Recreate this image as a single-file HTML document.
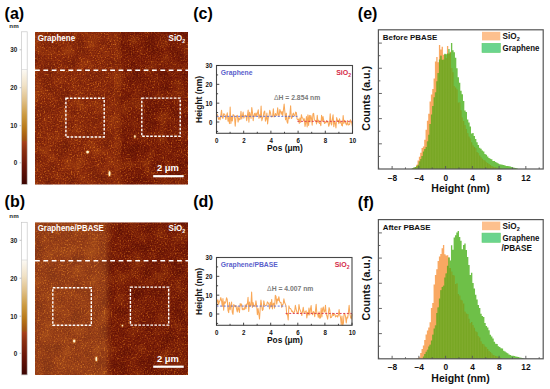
<!DOCTYPE html>
<html><head><meta charset="utf-8"><style>
html,body{margin:0;padding:0;background:#fff;width:550px;height:389px;overflow:hidden}
svg{display:block}
text{font-family:"Liberation Sans", sans-serif}
</style></head><body>
<svg width="550" height="389" viewBox="0 0 550 389" font-family='"Liberation Sans", sans-serif'>
<defs>
<linearGradient id="afmgrad" x1="0" y1="0" x2="1" y2="0">
 <stop offset="0" stop-color="#c06010" stop-opacity="0.10"/>
 <stop offset="0.5" stop-color="#c06010" stop-opacity="0.06"/>
 <stop offset="0.58" stop-color="#400000" stop-opacity="0.08"/>
 <stop offset="1" stop-color="#400000" stop-opacity="0.10"/>
</linearGradient>
<linearGradient id="cbgrad" x1="0" y1="0" x2="0" y2="1">
 <stop offset="0" stop-color="#ffffff"/>
 <stop offset="0.247" stop-color="#ffffff"/>
 <stop offset="0.25" stop-color="#fcf9f3"/>
 <stop offset="0.35" stop-color="#f1e2c6"/>
 <stop offset="0.448" stop-color="#e0c088"/>
 <stop offset="0.546" stop-color="#cc9a40"/>
 <stop offset="0.631" stop-color="#b87818"/>
 <stop offset="0.712" stop-color="#a05010"/>
 <stop offset="0.72" stop-color="#a8401a"/>
 <stop offset="0.778" stop-color="#8a2e10"/>
 <stop offset="0.876" stop-color="#6a1508"/>
 <stop offset="1" stop-color="#3c0502"/>
</linearGradient>
<filter id="afmtex" x="0" y="0" width="100%" height="100%" color-interpolation-filters="sRGB">
 <feTurbulence type="fractalNoise" baseFrequency="0.7" numOctaves="2" seed="4" result="n"/>
 <feGaussianBlur in="n" stdDeviation="0.45" result="nb"/>
 <feColorMatrix in="nb" type="matrix" values="1 0 0 0 0  1 0 0 0 0  1 0 0 0 0  0 0 0 0 1" result="g"/>
 <feComponentTransfer in="g">
  <feFuncR type="table" tableValues="0.392 0.401 0.410 0.420 0.429 0.438 0.447 0.464 0.480 0.497 0.514 0.537 0.561 0.611 0.664 0.732 0.761 0.780 0.800 0.820 0.839"/>
  <feFuncG type="table" tableValues="0.063 0.067 0.072 0.076 0.081 0.086 0.090 0.101 0.112 0.123 0.133 0.155 0.176 0.222 0.272 0.339 0.373 0.397 0.422 0.446 0.471"/>
  <feFuncB type="table" tableValues="0.020 0.021 0.022 0.024 0.025 0.026 0.027 0.029 0.031 0.033 0.035 0.039 0.043 0.050 0.058 0.075 0.097 0.120 0.142 0.165 0.188"/>
  <feFuncA type="linear" slope="0" intercept="1"/>
 </feComponentTransfer>
</filter>
<filter id="afmtex2" x="0" y="0" width="100%" height="100%" color-interpolation-filters="sRGB">
 <feTurbulence type="fractalNoise" baseFrequency="0.7" numOctaves="2" seed="9" result="n"/>
 <feGaussianBlur in="n" stdDeviation="0.45" result="nb"/>
 <feColorMatrix in="nb" type="matrix" values="1 0 0 0 0  1 0 0 0 0  1 0 0 0 0  0 0 0 0 1" result="g"/>
 <feComponentTransfer in="g">
  <feFuncR type="table" tableValues="0.392 0.401 0.410 0.420 0.429 0.438 0.447 0.464 0.480 0.497 0.514 0.537 0.561 0.611 0.664 0.732 0.761 0.780 0.800 0.820 0.839"/>
  <feFuncG type="table" tableValues="0.063 0.067 0.072 0.076 0.081 0.086 0.090 0.101 0.112 0.123 0.133 0.155 0.176 0.222 0.272 0.339 0.373 0.397 0.422 0.446 0.471"/>
  <feFuncB type="table" tableValues="0.020 0.021 0.022 0.024 0.025 0.026 0.027 0.029 0.031 0.033 0.035 0.039 0.043 0.050 0.058 0.075 0.097 0.120 0.142 0.165 0.188"/>
  <feFuncA type="linear" slope="0" intercept="1"/>
 </feComponentTransfer>
</filter>
<filter id="cloud" x="0" y="0" width="100%" height="100%" color-interpolation-filters="sRGB">
 <feTurbulence type="fractalNoise" baseFrequency="0.07" numOctaves="2" seed="21" result="n"/>
 <feColorMatrix in="n" type="matrix" values="0 0 0 0 0.80  0 0 0 0 0.40  0 0 0 0 0.08  0.9 0 0 0 -0.46" result="hi"/>
 <feColorMatrix in="n" type="matrix" values="0 0 0 0 0.25  0 0 0 0 0.0  0 0 0 0 0.0  -0.9 0 0 0 0.44" result="lo"/>
 <feMerge><feMergeNode in="lo"/><feMergeNode in="hi"/></feMerge>
</filter>
</defs>
<rect width="550" height="389" fill="#fff"/>
<text x="4.60" y="18.60" font-size="16" fill="#000" text-anchor="start" font-weight="bold" >(a)</text>
<text x="14.00" y="27.80" font-size="6.2" fill="#1a1a1a" text-anchor="middle" font-weight="bold" >nm</text>
<rect x="21.5" y="31.8" width="5.7" height="152.6" fill="url(#cbgrad)" stroke="#c8c8c8" stroke-width="0.7"/>
<line x1="21.5" y1="69.5" x2="27.2" y2="69.5" stroke="#d0d0d0" stroke-width="0.6"/>
<text x="17.20" y="52.10" font-size="6.3" fill="#222" text-anchor="end" font-weight="bold" >30</text>
<line x1="19.6" y1="49.8" x2="21.3" y2="49.8" stroke="#999" stroke-width="0.6"/>
<text x="17.20" y="90.00" font-size="6.3" fill="#222" text-anchor="end" font-weight="bold" >20</text>
<line x1="19.6" y1="87.7" x2="21.3" y2="87.7" stroke="#999" stroke-width="0.6"/>
<text x="17.20" y="128.00" font-size="6.3" fill="#222" text-anchor="end" font-weight="bold" >10</text>
<line x1="19.6" y1="125.7" x2="21.3" y2="125.7" stroke="#999" stroke-width="0.6"/>
<text x="17.20" y="165.10" font-size="6.3" fill="#222" text-anchor="end" font-weight="bold" >0</text>
<line x1="19.6" y1="162.8" x2="21.3" y2="162.8" stroke="#999" stroke-width="0.6"/>
<g>
<clipPath id="cp31"><rect x="35" y="31.9" width="153" height="152.5"/></clipPath>
<g clip-path="url(#cp31)">
<rect x="35" y="31.5" width="153" height="153" fill="#000" filter="url(#afmtex)"/>
<rect x="35" y="31.5" width="153" height="153" fill="#000" filter="url(#cloud)"/>
<defs><linearGradient id="lr31" x1="0" y1="0" x2="1" y2="0"><stop offset="0" stop-color="#c87428" stop-opacity="0.1"/><stop offset="0.523" stop-color="#c87428" stop-opacity="0.1"/><stop offset="0.575" stop-color="#300000" stop-opacity="0.1"/><stop offset="1" stop-color="#300000" stop-opacity="0.1"/></linearGradient></defs>
<rect x="35" y="31.5" width="153" height="153" fill="url(#lr31)"/>
<rect x="114" y="31.5" width="7" height="153" fill="#d8781c" opacity="0.08"/>
<ellipse cx="87.6" cy="152.1" rx="2.3" ry="2.3" fill="#e89030" opacity="0.4"/>
<ellipse cx="87.6" cy="152.1" rx="1.4" ry="1.4" fill="#fff4d0"/>
<ellipse cx="109.5" cy="173.6" rx="1.9" ry="3.5" fill="#e89030" opacity="0.4"/>
<ellipse cx="109.5" cy="173.6" rx="1.0" ry="2.6" fill="#fff4d0"/>
<ellipse cx="134.9" cy="136.5" rx="1.7000000000000002" ry="2.1" fill="#e89030" opacity="0.4"/>
<ellipse cx="134.9" cy="136.5" rx="0.8" ry="1.2" fill="#fff4d0"/>
</g>
<line x1="35" y1="70.3" x2="188" y2="70.3" stroke="#fff" stroke-width="1.4" stroke-dasharray="4.8 3.556"/>
<rect x="65.9" y="98.3" width="38.3" height="38.7" fill="none" stroke="#fff" stroke-width="1.4" stroke-dasharray="2.6 1.4"/>
<rect x="141.8" y="98.1" width="38.4" height="38.2" fill="none" stroke="#fff" stroke-width="1.4" stroke-dasharray="2.6 1.4"/>
<text x="37.7" y="40.90" font-size="9" fill="#fff" font-weight="bold" textLength="37.5" lengthAdjust="spacingAndGlyphs">Graphene</text>
<text x="185.2" y="40.90" font-size="8.8" fill="#fff" font-weight="bold" text-anchor="end" textLength="16.6" lengthAdjust="spacingAndGlyphs">SiO<tspan font-size="5.8" dy="1.7">2</tspan></text>
<rect x="153.2" y="175.1" width="30.5" height="2.2" fill="#fff"/>
<text x="168.00" y="171.30" font-size="9.4" fill="#fff" text-anchor="middle" font-weight="bold" >2 μm</text>
</g>
<text x="4.60" y="207.40" font-size="16" fill="#000" text-anchor="start" font-weight="bold" >(b)</text>
<text x="14.00" y="218.30" font-size="6.2" fill="#1a1a1a" text-anchor="middle" font-weight="bold" >nm</text>
<rect x="21.5" y="222.3" width="5.7" height="152.6" fill="url(#cbgrad)" stroke="#c8c8c8" stroke-width="0.7"/>
<line x1="21.5" y1="260.0" x2="27.2" y2="260.0" stroke="#d0d0d0" stroke-width="0.6"/>
<text x="17.20" y="242.60" font-size="6.3" fill="#222" text-anchor="end" font-weight="bold" >30</text>
<line x1="19.6" y1="240.3" x2="21.3" y2="240.3" stroke="#999" stroke-width="0.6"/>
<text x="17.20" y="280.50" font-size="6.3" fill="#222" text-anchor="end" font-weight="bold" >20</text>
<line x1="19.6" y1="278.2" x2="21.3" y2="278.2" stroke="#999" stroke-width="0.6"/>
<text x="17.20" y="318.50" font-size="6.3" fill="#222" text-anchor="end" font-weight="bold" >10</text>
<line x1="19.6" y1="316.2" x2="21.3" y2="316.2" stroke="#999" stroke-width="0.6"/>
<text x="17.20" y="355.60" font-size="6.3" fill="#222" text-anchor="end" font-weight="bold" >0</text>
<line x1="19.6" y1="353.3" x2="21.3" y2="353.3" stroke="#999" stroke-width="0.6"/>
<g>
<clipPath id="cp222"><rect x="35" y="222.4" width="153" height="152.5"/></clipPath>
<g clip-path="url(#cp222)">
<rect x="35" y="222.0" width="153" height="153" fill="#000" filter="url(#afmtex2)"/>
<rect x="35" y="222.0" width="153" height="153" fill="#000" filter="url(#cloud)"/>
<defs><linearGradient id="lr222" x1="0" y1="0" x2="1" y2="0"><stop offset="0" stop-color="#d09040" stop-opacity="0.26"/><stop offset="0.458" stop-color="#d09040" stop-opacity="0.26"/><stop offset="0.510" stop-color="#300000" stop-opacity="0.12"/><stop offset="1" stop-color="#300000" stop-opacity="0.12"/></linearGradient></defs>
<rect x="35" y="222.0" width="153" height="153" fill="url(#lr222)"/>
<rect x="104" y="222.0" width="7" height="153" fill="#d8781c" opacity="0.0"/>
<ellipse cx="74.2" cy="341.0" rx="2.1" ry="2.4" fill="#e89030" opacity="0.4"/>
<ellipse cx="74.2" cy="341.0" rx="1.2" ry="1.5" fill="#fff4d0"/>
<ellipse cx="96.3" cy="359.0" rx="1.8" ry="3.1" fill="#e89030" opacity="0.4"/>
<ellipse cx="96.3" cy="359.0" rx="0.9" ry="2.2" fill="#fff4d0"/>
<ellipse cx="122.4" cy="325.6" rx="1.6" ry="1.8" fill="#e89030" opacity="0.4"/>
<ellipse cx="122.4" cy="325.6" rx="0.7" ry="0.9" fill="#fff4d0"/>
</g>
<line x1="35" y1="260.8" x2="188" y2="260.8" stroke="#fff" stroke-width="1.4" stroke-dasharray="4.8 3.556"/>
<rect x="52.8" y="287.8" width="38.5" height="37.5" fill="none" stroke="#fff" stroke-width="1.4" stroke-dasharray="2.6 1.4"/>
<rect x="130.4" y="287.1" width="38.3" height="38" fill="none" stroke="#fff" stroke-width="1.4" stroke-dasharray="2.6 1.4"/>
<text x="37.7" y="231.40" font-size="9" fill="#fff" font-weight="bold" textLength="66.2" lengthAdjust="spacingAndGlyphs">Graphene/PBASE</text>
<text x="185.2" y="231.40" font-size="8.8" fill="#fff" font-weight="bold" text-anchor="end" textLength="16.6" lengthAdjust="spacingAndGlyphs">SiO<tspan font-size="5.8" dy="1.7">2</tspan></text>
<rect x="153.2" y="365.6" width="30.5" height="2.2" fill="#fff"/>
<text x="168.00" y="361.80" font-size="9.4" fill="#fff" text-anchor="middle" font-weight="bold" >2 μm</text>
</g>
<text x="193.20" y="18.60" font-size="16" fill="#000" text-anchor="start" font-weight="bold" >(c)</text>
<polyline points="216.50,115.72 217.22,114.49 217.94,116.86 218.66,119.42 219.38,117.61 220.10,119.83 220.82,115.48 221.54,110.17 222.26,117.76 222.98,118.30 223.70,113.70 224.42,114.25 225.13,115.29 225.85,119.58 226.57,115.85 227.29,112.84 228.01,121.29 228.73,117.62 229.45,123.60 230.17,106.93 230.89,123.36 231.61,116.70 232.33,120.98 233.05,114.60 233.77,115.08 234.49,116.50 235.21,126.15 235.93,117.96 236.65,115.93 237.37,115.26 238.09,122.07 238.81,117.70 239.53,119.78 240.25,119.08 240.97,111.33 241.69,119.07 242.40,115.86 243.12,112.06 243.84,118.14 244.56,116.19 245.28,115.27 246.00,115.46 246.72,120.80 247.44,115.41 248.16,110.10 248.88,122.14 249.60,112.16 250.32,115.23 251.04,118.38 251.76,107.44 252.48,112.57 253.20,120.69 253.92,115.42 254.64,113.34 255.36,116.51 256.08,112.90 256.80,116.00 257.52,112.96 258.24,109.76 258.96,118.52 259.67,114.88 260.39,117.64 261.11,105.99 261.83,120.64 262.55,118.12 263.27,116.53 263.99,111.99 264.71,110.96 265.43,121.18 266.15,118.98 266.87,112.99 267.59,123.91 268.31,117.55 269.03,116.00 269.75,110.35 270.47,112.65 271.19,116.80 271.91,116.90 272.63,116.33 273.35,108.89 274.07,116.88 274.79,116.26 275.51,113.43 276.22,115.28 276.94,115.48 277.66,107.88 278.38,114.51 279.10,116.21 279.82,109.47 280.54,111.55 281.26,114.32 281.98,111.45 282.70,115.64 283.42,109.91 284.14,104.11 284.86,111.99 285.58,119.84 286.30,113.15 287.02,121.68 287.74,123.22 288.46,116.14 289.18,118.69 289.90,114.36 290.62,105.79 291.34,118.58 292.06,117.74 292.78,114.30 293.49,113.09 294.21,115.81 294.93,115.87 295.65,112.02 296.37,112.68 297.09,118.99 297.81,119.78 298.53,119.16 299.25,123.52 299.97,117.92 300.69,122.40 301.41,114.67 302.13,117.76 302.85,118.07 303.57,120.78 304.29,118.74 305.01,126.46 305.73,122.84 306.45,116.64 307.17,126.99 307.89,114.71 308.61,125.52 309.33,115.25 310.04,122.01 310.76,115.41 311.48,118.24 312.20,125.30 312.92,113.92 313.64,113.28 314.36,119.68 315.08,120.69 315.80,120.36 316.52,123.87 317.24,115.39 317.96,122.30 318.68,120.36 319.40,123.52 320.12,122.89 320.84,125.65 321.56,115.20 322.28,121.09 323.00,116.48 323.72,120.45 324.44,123.41 325.16,121.90 325.88,122.88 326.60,120.54 327.31,122.13 328.03,121.82 328.75,126.30 329.47,123.93 330.19,113.74 330.91,123.37 331.63,124.96 332.35,119.19 333.07,114.76 333.79,126.62 334.51,121.46 335.23,123.21 335.95,127.89 336.67,117.55 337.39,120.70 338.11,120.31 338.83,123.74 339.55,118.75 340.27,122.90 340.99,121.31 341.71,125.39 342.43,125.95 343.15,115.54 343.87,123.39 344.58,120.36 345.30,122.04 346.02,124.13 346.74,124.85 347.46,120.61 348.18,124.93 348.90,124.72 349.62,124.33 350.34,119.77 351.06,121.92 351.78,123.09 352.50,126.82" fill="none" stroke="#f9a858" stroke-width="1.05" stroke-linejoin="round"/>
<line x1="216.5" y1="116.35" x2="297.42" y2="116.35" stroke="#5566d8" stroke-width="0.9" stroke-dasharray="2 1.6"/>
<line x1="297.42" y1="121.34" x2="352.5" y2="121.34" stroke="#d8304c" stroke-width="0.9" stroke-dasharray="2 1.6"/>
<rect x="216.5" y="65.5" width="136.0" height="67.80000000000001" fill="none" stroke="#484848" stroke-width="1.1"/>
<line x1="216.5" y1="131.42" x2="218.1" y2="131.42" stroke="#333" stroke-width="0.9"/>
<line x1="216.5" y1="122.00" x2="219.3" y2="122.00" stroke="#333" stroke-width="0.9"/>
<line x1="216.5" y1="112.58" x2="218.1" y2="112.58" stroke="#333" stroke-width="0.9"/>
<line x1="216.5" y1="103.17" x2="219.3" y2="103.17" stroke="#333" stroke-width="0.9"/>
<line x1="216.5" y1="93.75" x2="218.1" y2="93.75" stroke="#333" stroke-width="0.9"/>
<line x1="216.5" y1="84.33" x2="219.3" y2="84.33" stroke="#333" stroke-width="0.9"/>
<line x1="216.5" y1="74.92" x2="218.1" y2="74.92" stroke="#333" stroke-width="0.9"/>
<line x1="216.5" y1="65.50" x2="219.3" y2="65.50" stroke="#333" stroke-width="0.9"/>
<text x="212.40" y="124.60" font-size="7.0" fill="#111" text-anchor="end" font-weight="bold" textLength="3.43" lengthAdjust="spacingAndGlyphs">0</text>
<text x="212.40" y="105.77" font-size="7.0" fill="#111" text-anchor="end" font-weight="bold" textLength="6.85" lengthAdjust="spacingAndGlyphs">10</text>
<text x="212.40" y="86.93" font-size="7.0" fill="#111" text-anchor="end" font-weight="bold" textLength="6.85" lengthAdjust="spacingAndGlyphs">20</text>
<text x="212.40" y="68.10" font-size="7.0" fill="#111" text-anchor="end" font-weight="bold" textLength="6.85" lengthAdjust="spacingAndGlyphs">30</text>
<line x1="216.50" y1="133.3" x2="216.50" y2="130.70000000000002" stroke="#333" stroke-width="0.9"/>
<line x1="230.10" y1="133.3" x2="230.10" y2="131.8" stroke="#333" stroke-width="0.9"/>
<line x1="243.70" y1="133.3" x2="243.70" y2="130.70000000000002" stroke="#333" stroke-width="0.9"/>
<line x1="257.30" y1="133.3" x2="257.30" y2="131.8" stroke="#333" stroke-width="0.9"/>
<line x1="270.90" y1="133.3" x2="270.90" y2="130.70000000000002" stroke="#333" stroke-width="0.9"/>
<line x1="284.50" y1="133.3" x2="284.50" y2="131.8" stroke="#333" stroke-width="0.9"/>
<line x1="298.10" y1="133.3" x2="298.10" y2="130.70000000000002" stroke="#333" stroke-width="0.9"/>
<line x1="311.70" y1="133.3" x2="311.70" y2="131.8" stroke="#333" stroke-width="0.9"/>
<line x1="325.30" y1="133.3" x2="325.30" y2="130.70000000000002" stroke="#333" stroke-width="0.9"/>
<line x1="338.90" y1="133.3" x2="338.90" y2="131.8" stroke="#333" stroke-width="0.9"/>
<line x1="352.50" y1="133.3" x2="352.50" y2="130.70000000000002" stroke="#333" stroke-width="0.9"/>
<text x="216.70" y="143.00" font-size="7.0" fill="#111" text-anchor="middle" font-weight="bold" textLength="3.43" lengthAdjust="spacingAndGlyphs">0</text>
<text x="243.90" y="143.00" font-size="7.0" fill="#111" text-anchor="middle" font-weight="bold" textLength="3.43" lengthAdjust="spacingAndGlyphs">2</text>
<text x="271.10" y="143.00" font-size="7.0" fill="#111" text-anchor="middle" font-weight="bold" textLength="3.43" lengthAdjust="spacingAndGlyphs">4</text>
<text x="298.30" y="143.00" font-size="7.0" fill="#111" text-anchor="middle" font-weight="bold" textLength="3.43" lengthAdjust="spacingAndGlyphs">6</text>
<text x="325.50" y="143.00" font-size="7.0" fill="#111" text-anchor="middle" font-weight="bold" textLength="3.43" lengthAdjust="spacingAndGlyphs">8</text>
<text x="352.70" y="143.00" font-size="7.0" fill="#111" text-anchor="middle" font-weight="bold" textLength="6.85" lengthAdjust="spacingAndGlyphs">10</text>
<text x="284.90" y="151.10" font-size="8.4" fill="#111" text-anchor="middle" font-weight="bold" >Pos (μm)</text>
<text x="0" y="0" font-size="8.5" font-weight="bold" fill="#111" text-anchor="middle" transform="translate(202.4 99.40) rotate(-90)">Height (nm)</text>
<text x="220.80" y="75.20" font-size="6.8" fill="#5b5fcc" text-anchor="start" font-weight="bold" >Graphene</text>
<text x="351.00" y="75.00" font-size="7" fill="#d42a48" text-anchor="end" font-weight="bold" >SiO<tspan font-size="5" dy="1.5">2</tspan></text>
<text x="274.00" y="100.20" font-size="6.8" fill="#7a7a7a" text-anchor="start" font-weight="bold" ><tspan font-weight="normal">Δ</tspan>H = 2.854 nm</text>
<text x="193.20" y="207.40" font-size="16" fill="#000" text-anchor="start" font-weight="bold" >(d)</text>
<polyline points="216.50,310.12 217.22,300.19 217.93,299.89 218.65,304.34 219.37,301.48 220.08,300.57 220.80,297.62 221.52,300.42 222.24,306.41 222.95,298.52 223.67,310.20 224.39,301.66 225.10,303.32 225.82,301.85 226.54,297.74 227.25,299.41 227.97,310.33 228.69,312.59 229.40,302.21 230.12,309.81 230.84,305.65 231.56,302.12 232.27,312.41 232.99,314.34 233.71,304.53 234.42,305.42 235.14,306.62 235.86,305.44 236.57,309.17 237.29,311.87 238.01,306.29 238.72,309.63 239.44,312.41 240.16,303.51 240.88,305.86 241.59,303.92 242.31,309.70 243.03,308.33 243.74,309.74 244.46,309.27 245.18,304.79 245.89,308.85 246.61,304.13 247.33,304.19 248.04,297.21 248.76,311.37 249.48,301.92 250.20,305.97 250.91,305.66 251.63,291.97 252.35,307.51 253.06,302.52 253.78,305.94 254.50,305.27 255.21,306.81 255.93,300.82 256.65,305.69 257.37,314.72 258.08,308.47 258.80,313.76 259.52,319.07 260.23,307.79 260.95,300.07 261.67,305.39 262.38,310.43 263.10,309.46 263.82,300.86 264.53,304.86 265.25,305.27 265.97,305.63 266.69,305.17 267.40,301.89 268.12,302.80 268.84,304.03 269.55,309.05 270.27,302.38 270.99,307.07 271.70,299.41 272.42,308.90 273.14,303.89 273.85,303.05 274.57,308.22 275.29,295.36 276.01,296.25 276.72,304.09 277.44,298.91 278.16,300.55 278.87,296.67 279.59,301.31 280.31,302.80 281.02,302.43 281.74,307.49 282.46,304.40 283.17,304.28 283.89,298.84 284.61,302.58 285.33,304.14 286.04,305.89 286.76,314.61 287.48,313.96 288.19,319.89 288.91,305.83 289.63,308.29 290.34,308.42 291.06,309.36 291.78,311.58 292.49,311.04 293.21,312.86 293.93,312.55 294.65,311.37 295.36,305.23 296.08,309.09 296.80,311.54 297.51,313.61 298.23,313.77 298.95,304.43 299.66,308.92 300.38,310.70 301.10,312.39 301.81,315.55 302.53,311.23 303.25,307.36 303.97,312.64 304.68,312.00 305.40,312.04 306.12,310.74 306.83,317.88 307.55,312.35 308.27,315.02 308.98,307.92 309.70,314.89 310.42,309.43 311.13,305.62 311.85,313.36 312.57,314.67 313.29,311.50 314.00,312.41 314.72,316.63 315.44,310.71 316.15,304.37 316.87,313.88 317.59,313.74 318.30,317.31 319.02,311.74 319.74,318.29 320.46,317.77 321.17,307.94 321.89,317.04 322.61,308.86 323.32,307.06 324.04,312.34 324.76,311.16 325.47,305.39 326.19,314.33 326.91,316.01 327.62,319.20 328.34,313.47 329.06,307.58 329.78,309.82 330.49,317.81 331.21,317.59 331.93,316.30 332.64,313.22 333.36,315.53 334.08,314.08 334.79,314.06 335.51,316.89 336.23,316.19 336.94,315.54 337.66,317.11 338.38,315.00 339.10,309.61 339.81,315.12 340.53,317.46 341.25,324.72 341.96,316.07 342.68,325.59 343.40,323.14 344.11,313.47 344.83,313.75 345.55,316.93 346.26,323.02 346.98,317.11 347.70,318.03 348.42,312.27 349.13,305.27 349.85,313.49 350.57,317.42 351.28,318.88 352.00,314.14" fill="none" stroke="#f9a858" stroke-width="1.05" stroke-linejoin="round"/>
<line x1="216.5" y1="306.09" x2="285.61" y2="306.09" stroke="#5566d8" stroke-width="0.9" stroke-dasharray="2 1.6"/>
<line x1="285.61" y1="313.44" x2="352.0" y2="313.44" stroke="#d8304c" stroke-width="0.9" stroke-dasharray="2 1.6"/>
<rect x="216.5" y="257.5" width="135.5" height="67.80000000000001" fill="none" stroke="#484848" stroke-width="1.1"/>
<line x1="216.5" y1="323.42" x2="218.1" y2="323.42" stroke="#333" stroke-width="0.9"/>
<line x1="216.5" y1="314.00" x2="219.3" y2="314.00" stroke="#333" stroke-width="0.9"/>
<line x1="216.5" y1="304.58" x2="218.1" y2="304.58" stroke="#333" stroke-width="0.9"/>
<line x1="216.5" y1="295.17" x2="219.3" y2="295.17" stroke="#333" stroke-width="0.9"/>
<line x1="216.5" y1="285.75" x2="218.1" y2="285.75" stroke="#333" stroke-width="0.9"/>
<line x1="216.5" y1="276.33" x2="219.3" y2="276.33" stroke="#333" stroke-width="0.9"/>
<line x1="216.5" y1="266.92" x2="218.1" y2="266.92" stroke="#333" stroke-width="0.9"/>
<line x1="216.5" y1="257.50" x2="219.3" y2="257.50" stroke="#333" stroke-width="0.9"/>
<text x="212.40" y="316.60" font-size="7.0" fill="#111" text-anchor="end" font-weight="bold" textLength="3.43" lengthAdjust="spacingAndGlyphs">0</text>
<text x="212.40" y="297.77" font-size="7.0" fill="#111" text-anchor="end" font-weight="bold" textLength="6.85" lengthAdjust="spacingAndGlyphs">10</text>
<text x="212.40" y="278.93" font-size="7.0" fill="#111" text-anchor="end" font-weight="bold" textLength="6.85" lengthAdjust="spacingAndGlyphs">20</text>
<text x="212.40" y="260.10" font-size="7.0" fill="#111" text-anchor="end" font-weight="bold" textLength="6.85" lengthAdjust="spacingAndGlyphs">30</text>
<line x1="216.50" y1="325.3" x2="216.50" y2="322.7" stroke="#333" stroke-width="0.9"/>
<line x1="230.05" y1="325.3" x2="230.05" y2="323.8" stroke="#333" stroke-width="0.9"/>
<line x1="243.60" y1="325.3" x2="243.60" y2="322.7" stroke="#333" stroke-width="0.9"/>
<line x1="257.15" y1="325.3" x2="257.15" y2="323.8" stroke="#333" stroke-width="0.9"/>
<line x1="270.70" y1="325.3" x2="270.70" y2="322.7" stroke="#333" stroke-width="0.9"/>
<line x1="284.25" y1="325.3" x2="284.25" y2="323.8" stroke="#333" stroke-width="0.9"/>
<line x1="297.80" y1="325.3" x2="297.80" y2="322.7" stroke="#333" stroke-width="0.9"/>
<line x1="311.35" y1="325.3" x2="311.35" y2="323.8" stroke="#333" stroke-width="0.9"/>
<line x1="324.90" y1="325.3" x2="324.90" y2="322.7" stroke="#333" stroke-width="0.9"/>
<line x1="338.45" y1="325.3" x2="338.45" y2="323.8" stroke="#333" stroke-width="0.9"/>
<line x1="352.00" y1="325.3" x2="352.00" y2="322.7" stroke="#333" stroke-width="0.9"/>
<text x="216.70" y="335.00" font-size="7.0" fill="#111" text-anchor="middle" font-weight="bold" textLength="3.43" lengthAdjust="spacingAndGlyphs">0</text>
<text x="243.80" y="335.00" font-size="7.0" fill="#111" text-anchor="middle" font-weight="bold" textLength="3.43" lengthAdjust="spacingAndGlyphs">2</text>
<text x="270.90" y="335.00" font-size="7.0" fill="#111" text-anchor="middle" font-weight="bold" textLength="3.43" lengthAdjust="spacingAndGlyphs">4</text>
<text x="298.00" y="335.00" font-size="7.0" fill="#111" text-anchor="middle" font-weight="bold" textLength="3.43" lengthAdjust="spacingAndGlyphs">6</text>
<text x="325.10" y="335.00" font-size="7.0" fill="#111" text-anchor="middle" font-weight="bold" textLength="3.43" lengthAdjust="spacingAndGlyphs">8</text>
<text x="352.20" y="335.00" font-size="7.0" fill="#111" text-anchor="middle" font-weight="bold" textLength="6.85" lengthAdjust="spacingAndGlyphs">10</text>
<text x="284.90" y="343.10" font-size="8.4" fill="#111" text-anchor="middle" font-weight="bold" >Pos (μm)</text>
<text x="0" y="0" font-size="8.5" font-weight="bold" fill="#111" text-anchor="middle" transform="translate(202.4 291.40) rotate(-90)">Height (nm)</text>
<text x="220.80" y="267.20" font-size="6.8" fill="#5b5fcc" text-anchor="start" font-weight="bold" >Graphene/PBASE</text>
<text x="349.50" y="267.00" font-size="7" fill="#d42a48" text-anchor="end" font-weight="bold" >SiO<tspan font-size="5" dy="1.5">2</tspan></text>
<text x="267.10" y="291.00" font-size="6.8" fill="#7a7a7a" text-anchor="start" font-weight="bold" ><tspan font-weight="normal">Δ</tspan>H = 4.007 nm</text>
<text x="357.80" y="18.60" font-size="16" fill="#000" text-anchor="start" font-weight="bold" >(e)</text>
<path d="M416.18 169.0V164.8H417.52V169.0zM417.52 169.0V160.4H418.86V169.0zM418.86 169.0V156.8H420.19V169.0zM420.19 169.0V152.7H421.53V169.0zM421.53 169.0V148.1H422.87V169.0zM422.87 169.0V146.6H424.20V169.0zM424.20 169.0V139.7H425.54V169.0zM425.54 169.0V129.8H426.88V169.0zM426.88 169.0V120.8H428.22V169.0zM428.22 169.0V113.7H429.55V169.0zM429.55 169.0V101.6H430.89V169.0zM430.89 169.0V94.4H432.23V169.0zM432.23 169.0V89.1H433.57V169.0zM433.57 169.0V78.5H434.90V169.0zM434.90 169.0V61.6H436.24V169.0zM436.24 169.0V57.0H437.58V169.0zM437.58 169.0V62.3H438.91V169.0zM438.91 169.0V45.1H440.25V169.0zM440.25 169.0V49.4H441.59V169.0zM441.59 169.0V46.8H442.93V169.0zM442.93 169.0V54.8H444.26V169.0zM446.94 169.0V46.0H448.27V169.0zM449.61 169.0V51.8H450.95V169.0z" fill="#f9a862"/>
<path d="M410.83 169.0V168.7H412.17V169.0zM412.17 169.0V168.2H413.51V169.0zM413.51 169.0V167.5H414.84V169.0zM444.26 169.0V53.7H445.60V169.0zM445.60 169.0V54.2H446.94V169.0zM448.27 169.0V48.9H449.61V169.0zM450.95 169.0V43.0H452.29V169.0zM452.29 169.0V50.2H453.62V169.0zM453.62 169.0V52.2H454.96V169.0zM454.96 169.0V57.8H456.30V169.0zM456.30 169.0V68.3H457.63V169.0zM457.63 169.0V77.2H458.97V169.0zM458.97 169.0V82.7H460.31V169.0zM460.31 169.0V90.8H461.65V169.0zM461.65 169.0V94.3H462.98V169.0zM462.98 169.0V101.0H464.32V169.0zM464.32 169.0V110.4H465.66V169.0zM465.66 169.0V112.1H467.00V169.0zM467.00 169.0V119.6H468.33V169.0zM468.33 169.0V122.5H469.67V169.0zM469.67 169.0V126.4H471.01V169.0zM471.01 169.0V133.6H472.34V169.0zM472.34 169.0V133.1H473.68V169.0zM473.68 169.0V135.9H475.02V169.0zM475.02 169.0V139.1H476.36V169.0zM476.36 169.0V142.2H477.69V169.0zM477.69 169.0V144.9H479.03V169.0zM479.03 169.0V147.7H480.37V169.0zM480.37 169.0V148.7H481.70V169.0zM481.70 169.0V150.5H483.04V169.0zM483.04 169.0V151.6H484.38V169.0zM484.38 169.0V154.1H485.72V169.0zM485.72 169.0V154.8H487.05V169.0zM487.05 169.0V156.5H488.39V169.0zM488.39 169.0V157.9H489.73V169.0zM489.73 169.0V158.8H491.06V169.0zM491.06 169.0V159.3H492.40V169.0zM492.40 169.0V160.9H493.74V169.0zM493.74 169.0V161.0H495.08V169.0zM495.08 169.0V161.9H496.41V169.0zM496.41 169.0V162.7H497.75V169.0zM497.75 169.0V163.5H499.09V169.0zM499.09 169.0V164.3H500.43V169.0zM500.43 169.0V164.5H501.76V169.0zM501.76 169.0V164.7H503.10V169.0zM503.10 169.0V165.0H504.44V169.0zM504.44 169.0V165.4H505.77V169.0zM505.77 169.0V165.9H507.11V169.0zM507.11 169.0V166.0H508.45V169.0zM508.45 169.0V166.2H509.79V169.0zM509.79 169.0V166.6H511.12V169.0zM511.12 169.0V167.0H512.46V169.0zM512.46 169.0V167.5H513.80V169.0zM513.80 169.0V167.7H515.13V169.0zM515.13 169.0V168.1H516.47V169.0zM516.47 169.0V168.5H517.81V169.0z" fill="#6ec048"/>
<path d="M412.17 169.0V168.6H413.51V169.0zM413.51 169.0V167.8H414.84V169.0zM414.84 169.0V167.0H416.18V169.0zM416.18 169.0V166.2H417.52V169.0zM417.52 169.0V164.7H418.86V169.0zM418.86 169.0V161.6H420.19V169.0zM420.19 169.0V159.1H421.53V169.0zM421.53 169.0V156.0H422.87V169.0zM422.87 169.0V151.6H424.20V169.0zM424.20 169.0V148.9H425.54V169.0zM425.54 169.0V146.9H426.88V169.0zM426.88 169.0V141.6H428.22V169.0zM428.22 169.0V134.7H429.55V169.0zM429.55 169.0V123.9H430.89V169.0zM430.89 169.0V114.5H432.23V169.0zM432.23 169.0V105.9H433.57V169.0zM433.57 169.0V97.3H434.90V169.0zM434.90 169.0V92.6H436.24V169.0zM436.24 169.0V81.2H437.58V169.0zM437.58 169.0V73.1H438.91V169.0zM438.91 169.0V59.6H440.25V169.0zM440.25 169.0V55.7H441.59V169.0zM441.59 169.0V59.8H442.93V169.0zM442.93 169.0V59.8H444.26V169.0zM444.26 169.0V54.4H445.60V169.0zM445.60 169.0V58.2H446.94V169.0zM446.94 169.0V53.5H448.27V169.0zM448.27 169.0V53.8H449.61V169.0zM449.61 169.0V52.4H450.95V169.0zM450.95 169.0V68.3H452.29V169.0zM452.29 169.0V72.2H453.62V169.0zM453.62 169.0V86.0H454.96V169.0zM454.96 169.0V87.6H456.30V169.0zM456.30 169.0V89.6H457.63V169.0zM457.63 169.0V102.5H458.97V169.0zM458.97 169.0V102.5H460.31V169.0zM460.31 169.0V110.3H461.65V169.0zM461.65 169.0V117.8H462.98V169.0zM462.98 169.0V120.9H464.32V169.0zM464.32 169.0V125.2H465.66V169.0zM465.66 169.0V128.9H467.00V169.0zM467.00 169.0V133.2H468.33V169.0zM468.33 169.0V136.5H469.67V169.0zM469.67 169.0V138.6H471.01V169.0zM471.01 169.0V142.3H472.34V169.0zM472.34 169.0V145.4H473.68V169.0zM473.68 169.0V147.0H475.02V169.0zM475.02 169.0V148.3H476.36V169.0zM476.36 169.0V152.1H477.69V169.0zM477.69 169.0V153.0H479.03V169.0zM479.03 169.0V155.4H480.37V169.0zM480.37 169.0V157.5H481.70V169.0zM481.70 169.0V158.7H483.04V169.0zM483.04 169.0V160.2H484.38V169.0zM484.38 169.0V160.5H485.72V169.0zM485.72 169.0V162.2H487.05V169.0zM487.05 169.0V162.9H488.39V169.0zM488.39 169.0V164.0H489.73V169.0zM489.73 169.0V165.1H491.06V169.0zM491.06 169.0V165.9H492.40V169.0zM492.40 169.0V166.7H493.74V169.0zM493.74 169.0V167.0H495.08V169.0zM495.08 169.0V167.3H496.41V169.0zM496.41 169.0V167.7H497.75V169.0zM497.75 169.0V168.0H499.09V169.0zM499.09 169.0V168.3H500.43V169.0zM500.43 169.0V168.7H501.76V169.0z" fill="#78a724"/>
<path d="M413.51 169.0V167.8H414.84V169.0zM416.18 169.0V166.2H417.52V169.0zM418.86 169.0V161.6H420.19V169.0zM421.53 169.0V156.0H422.87V169.0zM424.20 169.0V148.9H425.54V169.0zM426.88 169.0V141.6H428.22V169.0zM429.55 169.0V123.9H430.89V169.0zM432.23 169.0V105.9H433.57V169.0zM434.90 169.0V92.6H436.24V169.0zM437.58 169.0V73.1H438.91V169.0zM440.25 169.0V55.7H441.59V169.0zM442.93 169.0V59.8H444.26V169.0zM445.60 169.0V58.2H446.94V169.0zM448.27 169.0V53.8H449.61V169.0zM450.95 169.0V68.3H452.29V169.0zM453.62 169.0V86.0H454.96V169.0zM456.30 169.0V89.6H457.63V169.0zM458.97 169.0V102.5H460.31V169.0zM461.65 169.0V117.8H462.98V169.0zM464.32 169.0V125.2H465.66V169.0zM467.00 169.0V133.2H468.33V169.0zM469.67 169.0V138.6H471.01V169.0zM472.34 169.0V145.4H473.68V169.0zM475.02 169.0V148.3H476.36V169.0zM477.69 169.0V153.0H479.03V169.0zM480.37 169.0V157.5H481.70V169.0zM483.04 169.0V160.2H484.38V169.0zM485.72 169.0V162.2H487.05V169.0zM488.39 169.0V164.0H489.73V169.0zM491.06 169.0V165.9H492.40V169.0zM493.74 169.0V167.0H495.08V169.0zM496.41 169.0V167.7H497.75V169.0zM499.09 169.0V168.3H500.43V169.0z" fill="#82ad30" opacity="0.8"/>
<rect x="378.4" y="29.8" width="164.80000000000007" height="139.2" fill="none" stroke="#555" stroke-width="1.2"/>
<line x1="378.4" y1="156.41" x2="380.4" y2="156.41" stroke="#555" stroke-width="0.9"/>
<line x1="378.4" y1="143.82" x2="381.9" y2="143.82" stroke="#555" stroke-width="0.9"/>
<line x1="378.4" y1="131.23" x2="380.4" y2="131.23" stroke="#555" stroke-width="0.9"/>
<line x1="378.4" y1="118.64" x2="381.9" y2="118.64" stroke="#555" stroke-width="0.9"/>
<line x1="378.4" y1="106.05" x2="380.4" y2="106.05" stroke="#555" stroke-width="0.9"/>
<line x1="378.4" y1="93.46" x2="381.9" y2="93.46" stroke="#555" stroke-width="0.9"/>
<line x1="378.4" y1="80.87" x2="380.4" y2="80.87" stroke="#555" stroke-width="0.9"/>
<line x1="378.4" y1="68.28" x2="381.9" y2="68.28" stroke="#555" stroke-width="0.9"/>
<line x1="378.4" y1="55.69" x2="380.4" y2="55.69" stroke="#555" stroke-width="0.9"/>
<line x1="378.4" y1="43.10" x2="381.9" y2="43.10" stroke="#555" stroke-width="0.9"/>
<line x1="378.74" y1="169.0" x2="378.74" y2="167.4" stroke="#555" stroke-width="0.9"/>
<line x1="392.11" y1="169.0" x2="392.11" y2="166.0" stroke="#555" stroke-width="0.9"/>
<line x1="405.48" y1="169.0" x2="405.48" y2="167.4" stroke="#555" stroke-width="0.9"/>
<line x1="418.86" y1="169.0" x2="418.86" y2="166.0" stroke="#555" stroke-width="0.9"/>
<line x1="432.23" y1="169.0" x2="432.23" y2="167.4" stroke="#555" stroke-width="0.9"/>
<line x1="445.60" y1="169.0" x2="445.60" y2="166.0" stroke="#555" stroke-width="0.9"/>
<line x1="458.97" y1="169.0" x2="458.97" y2="167.4" stroke="#555" stroke-width="0.9"/>
<line x1="472.34" y1="169.0" x2="472.34" y2="166.0" stroke="#555" stroke-width="0.9"/>
<line x1="485.72" y1="169.0" x2="485.72" y2="167.4" stroke="#555" stroke-width="0.9"/>
<line x1="499.09" y1="169.0" x2="499.09" y2="166.0" stroke="#555" stroke-width="0.9"/>
<line x1="512.46" y1="169.0" x2="512.46" y2="167.4" stroke="#555" stroke-width="0.9"/>
<line x1="525.83" y1="169.0" x2="525.83" y2="166.0" stroke="#555" stroke-width="0.9"/>
<line x1="539.20" y1="169.0" x2="539.20" y2="167.4" stroke="#555" stroke-width="0.9"/>
<text x="392.41" y="180.60" font-size="8.4" fill="#111" text-anchor="middle" font-weight="bold" >−8</text>
<text x="419.16" y="180.60" font-size="8.4" fill="#111" text-anchor="middle" font-weight="bold" >−4</text>
<text x="445.80" y="180.60" font-size="8.4" fill="#111" text-anchor="middle" font-weight="bold" >0</text>
<text x="472.54" y="180.60" font-size="8.4" fill="#111" text-anchor="middle" font-weight="bold" >4</text>
<text x="499.29" y="180.60" font-size="8.4" fill="#111" text-anchor="middle" font-weight="bold" >8</text>
<text x="526.03" y="180.60" font-size="8.4" fill="#111" text-anchor="middle" font-weight="bold" >12</text>
<text x="460.50" y="192.10" font-size="10.5" fill="#111" text-anchor="middle" font-weight="bold" >Height (nm)</text>
<text x="0" y="0" font-size="10.6" font-weight="bold" fill="#111" text-anchor="middle" transform="translate(370.2 98.40) rotate(-90)">Counts (a.u.)</text>
<text x="382.80" y="40.20" font-size="7.9" fill="#111" text-anchor="start" font-weight="bold" >Before PBASE</text>
<rect x="482" y="31.8" width="18.3" height="8.6" fill="#fdc08e"/>
<rect x="482" y="43.3" width="18.3" height="9.2" fill="#6bd48e" stroke="#5ccd6a" stroke-width="0.6"/>
<text x="502.6" y="39.20" font-size="8.6" fill="#111" font-weight="bold" textLength="17.2" lengthAdjust="spacingAndGlyphs">SiO<tspan font-size="5.8" dy="1.7">2</tspan></text>
<text x="502.6" y="50.80" font-size="8.6" fill="#111" font-weight="bold" textLength="36.8" lengthAdjust="spacingAndGlyphs">Graphene</text>
<text x="357.80" y="207.80" font-size="16" fill="#000" text-anchor="start" font-weight="bold" >(f)</text>
<path d="M416.18 358.79999999999995V358.3H417.52V358.79999999999995zM417.52 358.79999999999995V357.9H418.86V358.79999999999995zM418.86 358.79999999999995V357.3H420.19V358.79999999999995zM420.19 358.79999999999995V353.1H421.53V358.79999999999995zM421.53 358.79999999999995V348.9H422.87V358.79999999999995zM422.87 358.79999999999995V345.5H424.20V358.79999999999995zM424.20 358.79999999999995V340.0H425.54V358.79999999999995zM425.54 358.79999999999995V334.5H426.88V358.79999999999995zM426.88 358.79999999999995V330.6H428.22V358.79999999999995zM428.22 358.79999999999995V327.4H429.55V358.79999999999995zM429.55 358.79999999999995V322.2H430.89V358.79999999999995zM430.89 358.79999999999995V308.0H432.23V358.79999999999995zM432.23 358.79999999999995V302.9H433.57V358.79999999999995zM433.57 358.79999999999995V284.4H434.90V358.79999999999995zM434.90 358.79999999999995V275.1H436.24V358.79999999999995zM436.24 358.79999999999995V269.3H437.58V358.79999999999995zM437.58 358.79999999999995V260.9H438.91V358.79999999999995zM438.91 358.79999999999995V256.5H440.25V358.79999999999995zM440.25 358.79999999999995V254.0H441.59V358.79999999999995zM441.59 358.79999999999995V248.3H442.93V358.79999999999995zM442.93 358.79999999999995V245.0H444.26V358.79999999999995zM444.26 358.79999999999995V254.2H445.60V358.79999999999995zM445.60 358.79999999999995V255.5H446.94V358.79999999999995zM446.94 358.79999999999995V255.2H448.27V358.79999999999995z" fill="#f9a862"/>
<path d="M449.61 358.79999999999995V260.4H450.95V358.79999999999995zM450.95 358.79999999999995V245.3H452.29V358.79999999999995zM452.29 358.79999999999995V249.8H453.62V358.79999999999995zM453.62 358.79999999999995V237.4H454.96V358.79999999999995zM454.96 358.79999999999995V235.3H456.30V358.79999999999995zM456.30 358.79999999999995V232.4H457.63V358.79999999999995zM457.63 358.79999999999995V231.0H458.97V358.79999999999995zM458.97 358.79999999999995V236.9H460.31V358.79999999999995zM460.31 358.79999999999995V240.8H461.65V358.79999999999995zM461.65 358.79999999999995V249.3H462.98V358.79999999999995zM462.98 358.79999999999995V245.1H464.32V358.79999999999995zM464.32 358.79999999999995V243.4H465.66V358.79999999999995zM465.66 358.79999999999995V249.9H467.00V358.79999999999995zM467.00 358.79999999999995V257.1H468.33V358.79999999999995zM468.33 358.79999999999995V265.0H469.67V358.79999999999995zM469.67 358.79999999999995V274.9H471.01V358.79999999999995zM471.01 358.79999999999995V272.8H472.34V358.79999999999995zM472.34 358.79999999999995V283.0H473.68V358.79999999999995zM473.68 358.79999999999995V288.6H475.02V358.79999999999995zM475.02 358.79999999999995V294.8H476.36V358.79999999999995zM476.36 358.79999999999995V299.5H477.69V358.79999999999995zM477.69 358.79999999999995V304.9H479.03V358.79999999999995zM479.03 358.79999999999995V308.0H480.37V358.79999999999995zM480.37 358.79999999999995V313.7H481.70V358.79999999999995zM481.70 358.79999999999995V316.1H483.04V358.79999999999995zM483.04 358.79999999999995V317.0H484.38V358.79999999999995zM484.38 358.79999999999995V323.0H485.72V358.79999999999995zM485.72 358.79999999999995V325.9H487.05V358.79999999999995zM487.05 358.79999999999995V327.6H488.39V358.79999999999995zM488.39 358.79999999999995V330.2H489.73V358.79999999999995zM489.73 358.79999999999995V334.8H491.06V358.79999999999995zM491.06 358.79999999999995V336.6H492.40V358.79999999999995zM492.40 358.79999999999995V338.4H493.74V358.79999999999995zM493.74 358.79999999999995V341.7H495.08V358.79999999999995zM495.08 358.79999999999995V343.7H496.41V358.79999999999995zM496.41 358.79999999999995V344.0H497.75V358.79999999999995zM497.75 358.79999999999995V346.2H499.09V358.79999999999995zM499.09 358.79999999999995V346.9H500.43V358.79999999999995zM500.43 358.79999999999995V348.3H501.76V358.79999999999995zM501.76 358.79999999999995V348.5H503.10V358.79999999999995zM503.10 358.79999999999995V350.8H504.44V358.79999999999995zM504.44 358.79999999999995V351.4H505.77V358.79999999999995zM505.77 358.79999999999995V352.5H507.11V358.79999999999995zM507.11 358.79999999999995V353.2H508.45V358.79999999999995zM508.45 358.79999999999995V354.4H509.79V358.79999999999995zM509.79 358.79999999999995V355.0H511.12V358.79999999999995zM511.12 358.79999999999995V355.7H512.46V358.79999999999995zM512.46 358.79999999999995V355.7H513.80V358.79999999999995zM513.80 358.79999999999995V356.1H515.13V358.79999999999995zM515.13 358.79999999999995V356.5H516.47V358.79999999999995zM516.47 358.79999999999995V356.7H517.81V358.79999999999995zM517.81 358.79999999999995V357.1H519.15V358.79999999999995zM519.15 358.79999999999995V357.5H520.48V358.79999999999995zM520.48 358.79999999999995V357.7H521.82V358.79999999999995zM521.82 358.79999999999995V358.1H523.16V358.79999999999995zM523.16 358.79999999999995V358.3H524.49V358.79999999999995z" fill="#6ec048"/>
<path d="M422.87 358.79999999999995V356.4H424.20V358.79999999999995zM424.20 358.79999999999995V353.9H425.54V358.79999999999995zM425.54 358.79999999999995V351.7H426.88V358.79999999999995zM426.88 358.79999999999995V349.8H428.22V358.79999999999995zM428.22 358.79999999999995V346.6H429.55V358.79999999999995zM429.55 358.79999999999995V344.8H430.89V358.79999999999995zM430.89 358.79999999999995V340.4H432.23V358.79999999999995zM432.23 358.79999999999995V334.8H433.57V358.79999999999995zM433.57 358.79999999999995V328.6H434.90V358.79999999999995zM434.90 358.79999999999995V325.6H436.24V358.79999999999995zM436.24 358.79999999999995V313.0H437.58V358.79999999999995zM437.58 358.79999999999995V307.6H438.91V358.79999999999995zM438.91 358.79999999999995V298.5H440.25V358.79999999999995zM440.25 358.79999999999995V290.2H441.59V358.79999999999995zM441.59 358.79999999999995V287.0H442.93V358.79999999999995zM442.93 358.79999999999995V285.7H444.26V358.79999999999995zM444.26 358.79999999999995V277.6H445.60V358.79999999999995zM445.60 358.79999999999995V273.5H446.94V358.79999999999995zM446.94 358.79999999999995V265.7H448.27V358.79999999999995zM448.27 358.79999999999995V257.5H449.61V358.79999999999995zM449.61 358.79999999999995V267.9H450.95V358.79999999999995zM450.95 358.79999999999995V271.7H452.29V358.79999999999995zM452.29 358.79999999999995V275.1H453.62V358.79999999999995zM453.62 358.79999999999995V275.8H454.96V358.79999999999995zM454.96 358.79999999999995V283.9H456.30V358.79999999999995zM456.30 358.79999999999995V283.5H457.63V358.79999999999995zM457.63 358.79999999999995V294.1H458.97V358.79999999999995zM458.97 358.79999999999995V295.8H460.31V358.79999999999995zM460.31 358.79999999999995V299.7H461.65V358.79999999999995zM461.65 358.79999999999995V300.8H462.98V358.79999999999995zM462.98 358.79999999999995V303.4H464.32V358.79999999999995zM464.32 358.79999999999995V311.7H465.66V358.79999999999995zM465.66 358.79999999999995V313.4H467.00V358.79999999999995zM467.00 358.79999999999995V314.1H468.33V358.79999999999995zM468.33 358.79999999999995V318.8H469.67V358.79999999999995zM469.67 358.79999999999995V323.0H471.01V358.79999999999995zM471.01 358.79999999999995V322.0H472.34V358.79999999999995zM472.34 358.79999999999995V325.3H473.68V358.79999999999995zM473.68 358.79999999999995V327.8H475.02V358.79999999999995zM475.02 358.79999999999995V331.4H476.36V358.79999999999995zM476.36 358.79999999999995V332.3H477.69V358.79999999999995zM477.69 358.79999999999995V336.0H479.03V358.79999999999995zM479.03 358.79999999999995V337.4H480.37V358.79999999999995zM480.37 358.79999999999995V341.4H481.70V358.79999999999995zM481.70 358.79999999999995V343.7H483.04V358.79999999999995zM483.04 358.79999999999995V344.6H484.38V358.79999999999995zM484.38 358.79999999999995V346.5H485.72V358.79999999999995zM485.72 358.79999999999995V347.3H487.05V358.79999999999995zM487.05 358.79999999999995V349.0H488.39V358.79999999999995zM488.39 358.79999999999995V350.9H489.73V358.79999999999995zM489.73 358.79999999999995V352.0H491.06V358.79999999999995zM491.06 358.79999999999995V353.6H492.40V358.79999999999995zM492.40 358.79999999999995V354.9H493.74V358.79999999999995zM493.74 358.79999999999995V355.6H495.08V358.79999999999995zM495.08 358.79999999999995V356.1H496.41V358.79999999999995zM496.41 358.79999999999995V356.5H497.75V358.79999999999995zM497.75 358.79999999999995V357.1H499.09V358.79999999999995zM499.09 358.79999999999995V357.6H500.43V358.79999999999995zM500.43 358.79999999999995V358.3H501.76V358.79999999999995z" fill="#78a724"/>
<path d="M424.20 358.79999999999995V353.9H425.54V358.79999999999995zM426.88 358.79999999999995V349.8H428.22V358.79999999999995zM429.55 358.79999999999995V344.8H430.89V358.79999999999995zM432.23 358.79999999999995V334.8H433.57V358.79999999999995zM434.90 358.79999999999995V325.6H436.24V358.79999999999995zM437.58 358.79999999999995V307.6H438.91V358.79999999999995zM440.25 358.79999999999995V290.2H441.59V358.79999999999995zM442.93 358.79999999999995V285.7H444.26V358.79999999999995zM445.60 358.79999999999995V273.5H446.94V358.79999999999995zM448.27 358.79999999999995V257.5H449.61V358.79999999999995zM450.95 358.79999999999995V271.7H452.29V358.79999999999995zM453.62 358.79999999999995V275.8H454.96V358.79999999999995zM456.30 358.79999999999995V283.5H457.63V358.79999999999995zM458.97 358.79999999999995V295.8H460.31V358.79999999999995zM461.65 358.79999999999995V300.8H462.98V358.79999999999995zM464.32 358.79999999999995V311.7H465.66V358.79999999999995zM467.00 358.79999999999995V314.1H468.33V358.79999999999995zM469.67 358.79999999999995V323.0H471.01V358.79999999999995zM472.34 358.79999999999995V325.3H473.68V358.79999999999995zM475.02 358.79999999999995V331.4H476.36V358.79999999999995zM477.69 358.79999999999995V336.0H479.03V358.79999999999995zM480.37 358.79999999999995V341.4H481.70V358.79999999999995zM483.04 358.79999999999995V344.6H484.38V358.79999999999995zM485.72 358.79999999999995V347.3H487.05V358.79999999999995zM488.39 358.79999999999995V350.9H489.73V358.79999999999995zM491.06 358.79999999999995V353.6H492.40V358.79999999999995zM493.74 358.79999999999995V355.6H495.08V358.79999999999995zM496.41 358.79999999999995V356.5H497.75V358.79999999999995zM499.09 358.79999999999995V357.6H500.43V358.79999999999995z" fill="#82ad30" opacity="0.8"/>
<rect x="378.4" y="219.6" width="164.80000000000007" height="139.19999999999996" fill="none" stroke="#555" stroke-width="1.2"/>
<line x1="378.4" y1="346.21" x2="380.4" y2="346.21" stroke="#555" stroke-width="0.9"/>
<line x1="378.4" y1="333.62" x2="381.9" y2="333.62" stroke="#555" stroke-width="0.9"/>
<line x1="378.4" y1="321.03" x2="380.4" y2="321.03" stroke="#555" stroke-width="0.9"/>
<line x1="378.4" y1="308.44" x2="381.9" y2="308.44" stroke="#555" stroke-width="0.9"/>
<line x1="378.4" y1="295.85" x2="380.4" y2="295.85" stroke="#555" stroke-width="0.9"/>
<line x1="378.4" y1="283.26" x2="381.9" y2="283.26" stroke="#555" stroke-width="0.9"/>
<line x1="378.4" y1="270.67" x2="380.4" y2="270.67" stroke="#555" stroke-width="0.9"/>
<line x1="378.4" y1="258.08" x2="381.9" y2="258.08" stroke="#555" stroke-width="0.9"/>
<line x1="378.4" y1="245.49" x2="380.4" y2="245.49" stroke="#555" stroke-width="0.9"/>
<line x1="378.4" y1="232.90" x2="381.9" y2="232.90" stroke="#555" stroke-width="0.9"/>
<line x1="378.74" y1="358.79999999999995" x2="378.74" y2="357.19999999999993" stroke="#555" stroke-width="0.9"/>
<line x1="392.11" y1="358.79999999999995" x2="392.11" y2="355.79999999999995" stroke="#555" stroke-width="0.9"/>
<line x1="405.48" y1="358.79999999999995" x2="405.48" y2="357.19999999999993" stroke="#555" stroke-width="0.9"/>
<line x1="418.86" y1="358.79999999999995" x2="418.86" y2="355.79999999999995" stroke="#555" stroke-width="0.9"/>
<line x1="432.23" y1="358.79999999999995" x2="432.23" y2="357.19999999999993" stroke="#555" stroke-width="0.9"/>
<line x1="445.60" y1="358.79999999999995" x2="445.60" y2="355.79999999999995" stroke="#555" stroke-width="0.9"/>
<line x1="458.97" y1="358.79999999999995" x2="458.97" y2="357.19999999999993" stroke="#555" stroke-width="0.9"/>
<line x1="472.34" y1="358.79999999999995" x2="472.34" y2="355.79999999999995" stroke="#555" stroke-width="0.9"/>
<line x1="485.72" y1="358.79999999999995" x2="485.72" y2="357.19999999999993" stroke="#555" stroke-width="0.9"/>
<line x1="499.09" y1="358.79999999999995" x2="499.09" y2="355.79999999999995" stroke="#555" stroke-width="0.9"/>
<line x1="512.46" y1="358.79999999999995" x2="512.46" y2="357.19999999999993" stroke="#555" stroke-width="0.9"/>
<line x1="525.83" y1="358.79999999999995" x2="525.83" y2="355.79999999999995" stroke="#555" stroke-width="0.9"/>
<line x1="539.20" y1="358.79999999999995" x2="539.20" y2="357.19999999999993" stroke="#555" stroke-width="0.9"/>
<text x="392.41" y="370.40" font-size="8.4" fill="#111" text-anchor="middle" font-weight="bold" >−8</text>
<text x="419.16" y="370.40" font-size="8.4" fill="#111" text-anchor="middle" font-weight="bold" >−4</text>
<text x="445.80" y="370.40" font-size="8.4" fill="#111" text-anchor="middle" font-weight="bold" >0</text>
<text x="472.54" y="370.40" font-size="8.4" fill="#111" text-anchor="middle" font-weight="bold" >4</text>
<text x="499.29" y="370.40" font-size="8.4" fill="#111" text-anchor="middle" font-weight="bold" >8</text>
<text x="526.03" y="370.40" font-size="8.4" fill="#111" text-anchor="middle" font-weight="bold" >12</text>
<text x="460.50" y="381.90" font-size="10.5" fill="#111" text-anchor="middle" font-weight="bold" >Height (nm)</text>
<text x="0" y="0" font-size="10.6" font-weight="bold" fill="#111" text-anchor="middle" transform="translate(370.2 288.20) rotate(-90)">Counts (a.u.)</text>
<text x="382.80" y="230.00" font-size="7.9" fill="#111" text-anchor="start" font-weight="bold" >After PBASE</text>
<rect x="482" y="221.6" width="18.3" height="8.6" fill="#fdc08e"/>
<rect x="482" y="233.1" width="18.3" height="9.2" fill="#6bd48e" stroke="#5ccd6a" stroke-width="0.6"/>
<text x="502.6" y="229.00" font-size="8.6" fill="#111" font-weight="bold" textLength="17.2" lengthAdjust="spacingAndGlyphs">SiO<tspan font-size="5.8" dy="1.7">2</tspan></text>
<text x="502.6" y="240.60" font-size="8.6" fill="#111" font-weight="bold" textLength="36.8" lengthAdjust="spacingAndGlyphs">Graphene</text>
<text x="501.4" y="251.00" font-size="8.6" fill="#111" font-weight="bold" textLength="30.5" lengthAdjust="spacingAndGlyphs">/PBASE</text>
</svg>
</body></html>
